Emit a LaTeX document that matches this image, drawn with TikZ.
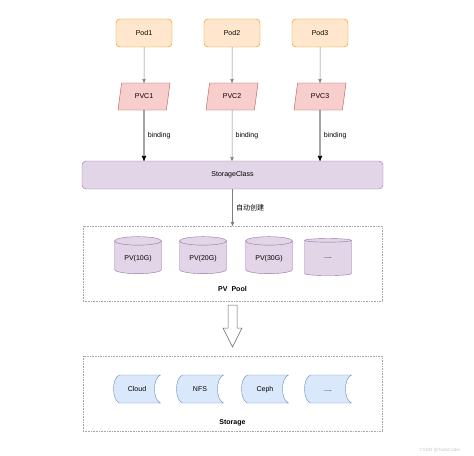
\documentclass[tikz,border=0pt]{standalone}
\usepackage{fontspec}
\setmainfont{Liberation Sans}
\newfontfamily\cjkfont{Noto Sans CJK SC}
\usepackage{xcolor}
\definecolor{podFill}{HTML}{FFE6CC}
\definecolor{podLine}{HTML}{D79B00}
\definecolor{pvcFill}{HTML}{F8CECC}
\definecolor{pvcLine}{HTML}{B85450}
\definecolor{scFill}{HTML}{E1D5E7}
\definecolor{scLine}{HTML}{9673A6}
\definecolor{tapeFill}{HTML}{DAE8FC}
\definecolor{tapeLine}{HTML}{6C8EBF}
\definecolor{arrowGrey}{HTML}{7F7F7F}
\usepackage{tikz}
\usetikzlibrary{arrows,shapes,positioning,calc}
\newcommand{\dfont}{\fontsize{7}{8}\selectfont}
\newcommand{\moredots}{....}
\tikzstyle{podbox}=[draw=podLine, fill=podFill, rounded corners=1.4mm, minimum width=19.6mm, minimum height=9.8mm, font=\dfont]
\tikzstyle{pvcbox}=[trapezium, trapezium left angle=73, trapezium right angle=107, draw=pvcLine, fill=pvcFill, minimum width=18.2mm, minimum height=9.45mm, trapezium stretches body, font=\dfont]
\tikzstyle{scbox}=[draw=scLine, fill=scFill, rounded corners=1.4mm, minimum width=105.35mm, minimum height=9.8mm, font=\dfont]
\tikzstyle{pvdisk}=[cylinder, shape border rotate=90, aspect=0.25, draw=scLine, fill=scFill, minimum width=16.45mm, minimum height=12.95mm, font=\dfont]
\tikzstyle{tapebox}=[minimum width=16.45mm, minimum height=9.8mm, outer sep=0pt, font=\dfont]
\tikzstyle{tapeline}=[draw=tapeLine, fill=tapeFill]
\tikzstyle{tapetext}=[font=\dfont, text height=1.4ex, text depth=0.3ex]
\tikzstyle{groupbox}=[draw=gray!70, dash pattern=on 0.8pt off 0.8pt, minimum width=104.65mm, minimum height=26.25mm]
\tikzstyle{greyarrow}=[->, >=stealth', color=arrowGrey, line width=0.5pt]
\tikzstyle{bindarrow}=[->, >=stealth', color=black, line width=0.9pt]
\tikzstyle{arrowlabel}=[midway, right, text=black, font=\dfont]

\begin{document}
\begin{tikzpicture}[x=0.35mm, y=-0.35mm]
    \useasboundingbox (0,0) rectangle (474,456);

    % Pods und PVCs
    \foreach \i/\x in {1/144,2/232,3/320} {
      \node[podbox] (pod\i) at (\x, 33) {Pod\i};
      \node[pvcbox] (pvc\i) at (\x, 96.5) {PVC\i};
      \draw[greyarrow] (pod\i) -- (pvc\i);
    }

    % StorageClass
    \node[scbox] (sc) at (232.5, 175) {StorageClass};
    \draw[bindarrow] (pvc1) -- (pvc1 |- sc.north)
          node[arrowlabel] {binding};
    \draw[greyarrow] (pvc2) -- (pvc2 |- sc.north)
          node[arrowlabel] {binding};
    \draw[bindarrow] (pvc3) -- (pvc3 |- sc.north)
          node[arrowlabel] {binding};

    % PV Pool
    \node[groupbox] (pool) at (232.5, 263.5) {};
    \draw[greyarrow] (sc) -- (pool.north)
          node[arrowlabel, font=\dfont\cjkfont] {自动创建};
    \foreach \name/\x/\txt in {pv10/138/PV(10G),pv20/203/PV(20G),pv30/269/PV(30G),pvmore/328/\moredots} {
      \node[pvdisk] (\name) at (\x, 258.5) {\txt};
    }
    \node[font=\dfont\bfseries] (poollabel) at (232.5, 289) {PV\ \ Pool};

    % Pfeil nach unten
    \draw[draw=gray!80!black, fill=white, line width=0.5pt]
          (228,305) -- (237,305) -- (237,328) -- (242,328) -- (232.5,347)
          -- (223,328) -- (228,328) -- cycle;

    % Storage
    \node[groupbox] (storage) at (232.5, 393.5) {};
    \foreach \name/\x/\txt in {cloud/137/Cloud,nfs/200/NFS,ceph/265/Ceph,more/328/\moredots} {
      \node[tapebox] (\name) at (\x, 389) {};
      \draw[tapeline] ($(\name.north west)+(6,0)$) -- (\name.north east)
            .. controls ($(\name.north east)+(-8,3)$) and ($(\name.south east)+(-8,-3)$) .. (\name.south east)
            -- ($(\name.south west)+(6,0)$)
            .. controls ($(\name.south west)+(-2,-3)$) and ($(\name.north west)+(-2,3)$) .. cycle;
      \node[tapetext] at (\name) {\txt};
    }
    \node[font=\dfont\bfseries] (storagelabel) at (232.5, 423) {Storage};

    \node[font=\fontsize{4.5}{5}\selectfont, color=gray!45] (mark) at (440, 450) {CSDN @TodoCoder};
\end{tikzpicture}
\end{document}
